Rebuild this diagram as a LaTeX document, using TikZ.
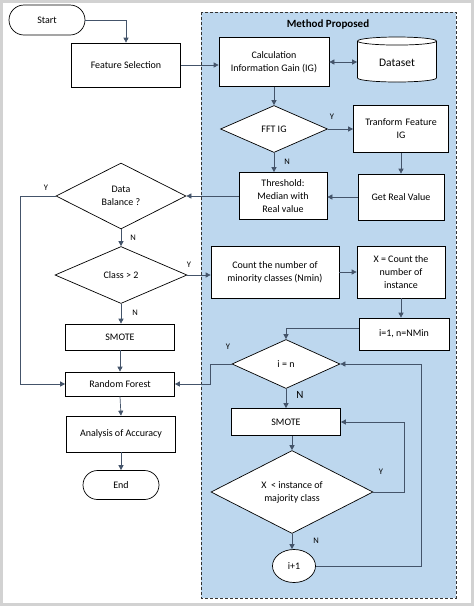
\documentclass[tikz,border=0pt]{standalone}
\usepackage{fontspec}
\setmainfont{Carlito}
\usetikzlibrary{shapes.geometric,shapes.misc,arrows.meta}
\definecolor{methodblue}{HTML}{BDD7EE}
\definecolor{linecol}{HTML}{44546A}
\newcommand\lbl{\fontsize{10}{13}\selectfont}
\begin{document}
\begin{tikzpicture}[x=1pt,y=-1pt,
  proc/.style={draw=black, fill=white, line width=0.7pt, inner sep=1pt, align=center, font=\lbl},
  term/.style={rounded rectangle, draw=black, fill=white, line width=0.7pt, inner sep=1pt, font=\lbl},
  decision/.style={diamond, draw=black, fill=white, line width=0.7pt, inner sep=0pt, align=center, font=\lbl},
  arr/.style={draw=linecol, line width=0.7pt, -{Triangle[length=5pt,width=5pt]}},
  lab/.style={font=\fontsize{8.5}{10}\selectfont, inner sep=0pt}]
  % page frame
  \fill[gray!35] (0,0) rectangle (474,606);
  \fill[white] (3,3) rectangle (471,603);
  \useasboundingbox (0,0) rectangle (474,606);
  % method proposed area
  \draw[fill=methodblue, draw=black!80, line width=1pt, dash pattern=on 3pt off 2pt] (201,12) rectangle (456,598);
  \node[font=\fontsize{11}{13}\selectfont\bfseries] (mtitle) at (328,25) {Method Proposed};
  % main column
  \node[term, minimum width=78, minimum height=30] (start) at (47,20) {Start};
  \node[proc, minimum width=109, minimum height=44] (featsel) at (126,65) {Feature Selection};
  \node[decision, minimum width=130, minimum height=66] (balance) at (121,196) {Data\\Balance ?};
  \node[decision, minimum width=132, minimum height=57] (cls) at (121,275) {Class > 2};
  \node[proc, minimum width=109, minimum height=26] (smotel) at (120,337) {SMOTE};
  \node[proc, minimum width=109, minimum height=24] (rf) at (120,384) {Random Forest};
  \node[proc, minimum width=109, minimum height=36] (acc) at (121,434) {Analysis of Accuracy};
  \node[term, minimum width=78, minimum height=29] (finish) at (121,485) {End};
  % proposed method
  \node[proc, minimum width=110, minimum height=49] (calc) at (274,62) {Calculation\\Information Gain (IG)};
  \node[cylinder, shape border rotate=90, aspect=0.19, draw=black, fill=white, line width=0.7pt,
    minimum width=79, minimum height=45, font=\fontsize{11.5}{13}\selectfont] (dataset) at (397,62.5) {Dataset};
  \node[decision, minimum width=107, minimum height=47] (fft) at (274,129) {FFT IG};
  \node[proc, minimum width=95, minimum height=47, text width=88] (trans) at (401,129) {Tranform Feature\\IG};
  \node[proc, minimum width=88, minimum height=47] (thresh) at (283,196) {Threshold:\\Median with\\Real value};
  \node[proc, minimum width=86, minimum height=46] (getreal) at (401,197) {Get Real Value};
  \node[proc, minimum width=128, minimum height=52] (count) at (275,272) {Count the number of\\minority classes (Nmin)};
  \node[proc, minimum width=88, minimum height=52] (xcount) at (401,272) {X = Count the\\number of\\instance};
  \node[proc, minimum width=90, minimum height=32] (init) at (404,334) {i=1, n=NMin};
  \node[decision, minimum width=108, minimum height=49] (ieqn) at (286,364) {i = n};
  \node[proc, minimum width=109, minimum height=27] (smoter) at (286,422) {SMOTE};
  \node[decision, minimum width=162, minimum height=71] (xless) at (292,492) {X~ < instance of\\majority class};
  \node[ellipse, draw=black, fill=white, line width=0.7pt, inner sep=0pt, minimum width=43, minimum height=33, font=\lbl] (inc) at (294,566) {i+1};
  % connectors
  \draw[arr] (start.east) -| (featsel.north);
  \draw[arr] (featsel.east) -- (featsel.east -| calc.west);
  \draw[arr, {Triangle[length=5pt,width=5pt]}-{Triangle[length=5pt,width=5pt]}] (calc.east) -- (calc.east -| dataset.west);
  \draw[arr] (calc.south) -- (fft.north);
  \draw[arr] (fft.east) -- (trans.west);
  \draw[arr] (fft.south) -- (fft.south |- thresh.north);
  \draw[arr] (trans.south) -- (getreal.north);
  \draw[arr] (getreal.west) -- (getreal.west -| thresh.east);
  \draw[arr] (thresh.west) -- (balance.east);
  \draw[arr] (balance.west) -- ++(-35,0) |- (rf.west);
  \draw[arr] (balance.south) -- (cls.north);
  \draw[arr] (cls.east) -- (cls.east -| count.west);
  \draw[arr] (cls.south) -- (cls.south |- smotel.north);
  \draw[arr] (smotel.south) -- (rf.north);
  \draw[arr] (rf.south) -- (acc.north);
  \draw[arr] (acc.south) -- (finish.north);
  \draw[arr] (count.east) -- (xcount.west);
  \draw[arr] (xcount.south) -- (xcount.south |- init.north);
  \draw[arr] ([yshift=6pt]init.west) -| (ieqn.north);
  \draw[arr] (ieqn.west) -- ++(-21,0) |- (rf.east);
  \draw[arr] (ieqn.south) -- (smoter.north);
  \draw[arr] (xless.north |- smoter.south) -- (xless.north);
  \draw[arr] (xless.east) -- ++(31,0) |- (smoter.east);
  \draw[arr] (xless.south) -- (xless.south |- inc.north);
  \draw[arr] (inc.east) -- ++(105,0) |- (ieqn.east);
  % Y / N labels
  \node[lab] (yfft) at (332,117) {Y};
  \node[lab] (nfft) at (287,162) {N};
  \node[lab] (ybal) at (46,188) {Y};
  \node[lab] (nbal) at (133,238) {N};
  \node[lab] (ycls) at (189,265) {Y};
  \node[lab] (ncls) at (135,313) {N};
  \node[lab] (yieq) at (228,347) {Y};
  \node[lab, font=\fontsize{11}{12}\selectfont] (nieq) at (300,395) {N};
  \node[lab] (yxls) at (381,472) {Y};
  \node[lab] (nxls) at (316,541) {N};
\end{tikzpicture}
\end{document}
